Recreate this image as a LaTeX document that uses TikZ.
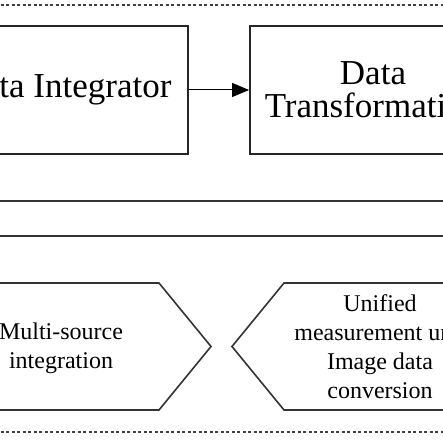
\documentclass[tikz,border=0pt]{standalone}
\usepackage{fontspec}
\setmainfont{Liberation Serif}
\usetikzlibrary{arrows.meta,positioning}

\tikzset{
  stagebox/.style={draw=black!85, line width=1.8pt, minimum width=246pt,
    minimum height=128pt, inner sep=0pt, align=center,
    font=\fontsize{35}{33}\selectfont},
  steptext/.style={align=center, inner sep=0pt, font=\fontsize{24}{29}\selectfont},
  zone/.style={draw=black!80, line width=1.8pt},
  sepline/.style={draw=black!75, line width=1.8pt, dash pattern=on 3pt off 2.5pt},
  flow/.style={draw=black, line width=1pt, -{Triangle[length=17pt,width=14pt]}},
}

\begin{document}
\begin{tikzpicture}[x=1pt,y=1pt]
        \useasboundingbox (0,0) rectangle (443,443);
        \clip (0,0) rectangle (443,443);

        % Layer separators
        \draw[sepline] (-5,438) -- (450,438);
        \draw[sepline] (-5,11) -- (450,11);
        \draw[zone] (-5,242) -- (450,242);
        \draw[zone] (-5,207) -- (450,207);

        % Stages
        \node[stagebox] (integ) at (65,353) {Data Integrator};
        \node[stagebox] (transf) at (373,353) {Data\\Transformation};
        \path[flow] (integ.east) -- (transf.west);

        % Steps
        \draw[zone, line width=1.6pt] (-80,160) -- (159,160) -- (211,96.5) -- (159,33) -- (-80,33);
        \draw[zone, line width=1.6pt] (520,160) -- (284,160) -- (232,96.5) -- (284,33) -- (520,33);
        \node[steptext] (multi) at (61,94.5) {Multi-source\\integration};
        \node[steptext] (unify) at (380,96) {Unified\\measurement unit\\Image data\\conversion};
      \end{tikzpicture}
\end{document}
